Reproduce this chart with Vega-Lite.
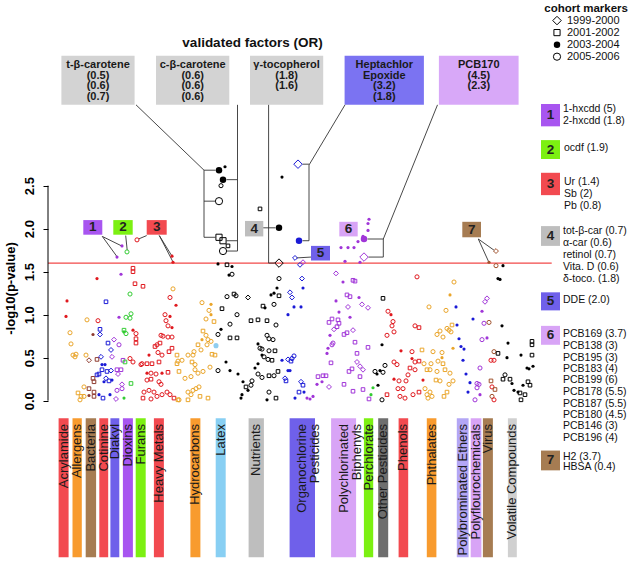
{
"$schema": "https://vega.github.io/schema/vega-lite/v6.json",
"width": 582, "height": 561,
"autosize": {"type": "none"},
"padding": {"left": 48, "top": 0, "right": 0, "bottom": 0},
"background": "white",
"config": {"view": {"stroke": null}, "font": "Liberation Sans"},
"datasets": {
"pts": [
{"x":69,"y":1.67,"c":"pur","s":"f"},{"x":74,"y":1.80,"c":"pur","s":"f"},{"x":79,"y":1.73,"c":"grn","s":"o"},{"x":89,"y":1.87,"c":"red","s":"o"},{"x":124,"y":1.68,"c":"red","s":"f"},{"x":125,"y":1.61,"c":"red","s":"f"},
{"x":85,"y":1.54,"c":"red","s":"q"},{"x":85,"y":1.50,"c":"red","s":"q"},{"x":49,"y":1.42,"c":"red","s":"f"},{"x":73,"y":1.47,"c":"pur","s":"f"},{"x":87,"y":1.36,"c":"red","s":"q"},{"x":95,"y":1.33,"c":"red","s":"q"},
{"x":19,"y":1.16,"c":"red","s":"f"},{"x":58,"y":1.15,"c":"blu","s":"q"},{"x":82,"y":1.24,"c":"grn","s":"o"},{"x":125,"y":1.30,"c":"org","s":"o"},{"x":122,"y":1.20,"c":"red","s":"o"},{"x":128,"y":1.11,"c":"red","s":"f"},
{"x":18,"y":0.98,"c":"red","s":"f"},{"x":39,"y":0.94,"c":"org","s":"o"},{"x":50,"y":0.93,"c":"red","s":"o"},{"x":71,"y":0.97,"c":"pur","s":"f"},{"x":78,"y":0.97,"c":"grn","s":"o"},{"x":83,"y":1.01,"c":"grn","s":"o"},
{"x":82,"y":0.96,"c":"grn","s":"o"},{"x":117,"y":1.00,"c":"red","s":"o"},{"x":122,"y":0.98,"c":"red","s":"f"},{"x":118,"y":0.93,"c":"red","s":"o"},{"x":120,"y":0.87,"c":"red","s":"o"},{"x":124,"y":0.85,"c":"red","s":"f"},
{"x":22,"y":0.79,"c":"org","s":"o"},{"x":52,"y":0.83,"c":"blu","s":"q"},{"x":52,"y":0.77,"c":"blu","s":"d"},{"x":45,"y":0.77,"c":"mar","s":"f"},{"x":76,"y":0.82,"c":"grn","s":"q"},{"x":76,"y":0.80,"c":"grn","s":"f"},
{"x":78,"y":0.78,"c":"grn","s":"o"},{"x":85,"y":0.82,"c":"red","s":"f"},{"x":88,"y":0.78,"c":"red","s":"o"},{"x":113,"y":0.76,"c":"red","s":"o"},{"x":115,"y":0.75,"c":"red","s":"o"},{"x":120,"y":0.74,"c":"red","s":"o"},
{"x":124,"y":0.74,"c":"red","s":"o"},{"x":66,"y":0.71,"c":"pur","s":"d"},{"x":71,"y":0.65,"c":"pur","s":"o"},{"x":60,"y":0.67,"c":"blu","s":"q"},{"x":88,"y":0.72,"c":"red","s":"q"},{"x":88,"y":0.67,"c":"red","s":"q"},
{"x":112,"y":0.67,"c":"red","s":"q"},{"x":109,"y":0.65,"c":"red","s":"o"},{"x":107,"y":0.63,"c":"red","s":"q"},{"x":23,"y":0.66,"c":"org","s":"o"},{"x":63,"y":0.59,"c":"blu","s":"d"},{"x":101,"y":0.53,"c":"red","s":"f"},
{"x":110,"y":0.56,"c":"red","s":"o"},{"x":114,"y":0.53,"c":"red","s":"o"},{"x":121,"y":0.57,"c":"red","s":"q"},{"x":124,"y":0.61,"c":"red","s":"q"},{"x":129,"y":0.53,"c":"org","s":"q"},{"x":25,"y":0.53,"c":"org","s":"o"},
{"x":27,"y":0.51,"c":"org","s":"o"},{"x":28,"y":0.54,"c":"org","s":"o"},{"x":38,"y":0.53,"c":"org","s":"o"},{"x":49,"y":0.48,"c":"mar","s":"q"},{"x":53,"y":0.51,"c":"blu","s":"d"},{"x":64,"y":0.51,"c":"pur","s":"d"},
{"x":75,"y":0.47,"c":"pur","s":"q"},{"x":77,"y":0.45,"c":"grn","s":"q"},{"x":82,"y":0.49,"c":"red","s":"o"},{"x":85,"y":0.45,"c":"red","s":"o"},{"x":93,"y":0.42,"c":"red","s":"o"},{"x":94,"y":0.43,"c":"red","s":"o"},
{"x":99,"y":0.43,"c":"red","s":"q"},{"x":104,"y":0.43,"c":"red","s":"q"},{"x":111,"y":0.45,"c":"red","s":"q"},{"x":54,"y":0.42,"c":"blu","s":"f"},{"x":57,"y":0.42,"c":"blu","s":"f"},{"x":54,"y":0.36,"c":"blu","s":"q"},
{"x":59,"y":0.34,"c":"blu","s":"q"},{"x":63,"y":0.35,"c":"blu","s":"d"},{"x":69,"y":0.36,"c":"pur","s":"q"},{"x":73,"y":0.36,"c":"pur","s":"q"},{"x":70,"y":0.31,"c":"pur","s":"d"},{"x":51,"y":0.31,"c":"blu","s":"q"},
{"x":49,"y":0.30,"c":"blu","s":"q"},{"x":45,"y":0.26,"c":"mar","s":"q"},{"x":46,"y":0.22,"c":"mar","s":"q"},{"x":58,"y":0.26,"c":"blu","s":"d"},{"x":56,"y":0.22,"c":"blu","s":"f"},{"x":61,"y":0.23,"c":"blu","s":"q"},
{"x":64,"y":0.24,"c":"blu","s":"f"},{"x":74,"y":0.19,"c":"pur","s":"d"},{"x":83,"y":0.20,"c":"grn","s":"q"},{"x":99,"y":0.32,"c":"red","s":"f"},{"x":103,"y":0.32,"c":"red","s":"o"},{"x":108,"y":0.31,"c":"red","s":"o"},
{"x":114,"y":0.32,"c":"red","s":"f"},{"x":120,"y":0.33,"c":"red","s":"q"},{"x":99,"y":0.24,"c":"red","s":"o"},{"x":103,"y":0.25,"c":"red","s":"q"},{"x":111,"y":0.22,"c":"red","s":"o"},{"x":113,"y":0.19,"c":"red","s":"o"},
{"x":36,"y":0.16,"c":"org","s":"o"},{"x":41,"y":0.14,"c":"mar","s":"q"},{"x":46,"y":0.10,"c":"mar","s":"q"},{"x":30,"y":0.09,"c":"org","s":"q"},{"x":33,"y":0.05,"c":"org","s":"q"},{"x":32,"y":0.01,"c":"org","s":"o"},
{"x":36,"y":0.05,"c":"org","s":"o"},{"x":41,"y":0.06,"c":"mar","s":"f"},{"x":46,"y":0.05,"c":"mar","s":"q"},{"x":51,"y":0.07,"c":"blu","s":"f"},{"x":55,"y":0.03,"c":"blu","s":"q"},{"x":62,"y":0.07,"c":"blu","s":"f"},
{"x":68,"y":0.02,"c":"pur","s":"d"},{"x":76,"y":0.03,"c":"grn","s":"f"},{"x":69,"y":0.12,"c":"pur","s":"o"},{"x":74,"y":0.14,"c":"pur","s":"o"},{"x":96,"y":0.10,"c":"red","s":"o"},{"x":101,"y":0.12,"c":"red","s":"o"},
{"x":106,"y":0.10,"c":"red","s":"o"},{"x":95,"y":0.03,"c":"red","s":"q"},{"x":103,"y":0.02,"c":"red","s":"o"},{"x":109,"y":0.05,"c":"red","s":"o"},{"x":114,"y":0.07,"c":"red","s":"o"},{"x":119,"y":0.10,"c":"red","s":"o"},
{"x":122,"y":0.07,"c":"red","s":"o"},{"x":126,"y":0.03,"c":"red","s":"q"},{"x":130,"y":0.01,"c":"org","s":"q"},{"x":41,"y":0.47,"c":"mar","s":"d"},
{"x":170,"y":1.59,"c":"blk","s":"f"},{"x":179,"y":1.58,"c":"blk","s":"q"},{"x":184,"y":1.56,"c":"blk","s":"f"},{"x":181,"y":1.46,"c":"blk","s":"f"},{"x":184,"y":1.47,"c":"blk","s":"o"},{"x":179,"y":1.21,"c":"blk","s":"o"},
{"x":186,"y":1.24,"c":"blk","s":"q"},{"x":188,"y":1.22,"c":"blk","s":"o"},{"x":200,"y":1.20,"c":"blk","s":"d"},{"x":215,"y":1.10,"c":"blk","s":"q"},{"x":217,"y":1.08,"c":"blk","s":"f"},{"x":226,"y":1.12,"c":"blk","s":"o"},
{"x":231,"y":1.42,"c":"blk","s":"o"},{"x":229,"y":1.31,"c":"blk","s":"f"},{"x":223,"y":1.23,"c":"blk","s":"f"},{"x":226,"y":1.25,"c":"blk","s":"f"},{"x":231,"y":1.22,"c":"blk","s":"q"},{"x":174,"y":1.07,"c":"blk","s":"q"},
{"x":189,"y":1.00,"c":"blk","s":"o"},{"x":154,"y":1.14,"c":"org","s":"o"},{"x":163,"y":1.12,"c":"org","s":"f"},{"x":161,"y":1.05,"c":"org","s":"o"},{"x":163,"y":1.00,"c":"org","s":"f"},{"x":203,"y":0.93,"c":"blk","s":"q"},
{"x":210,"y":0.94,"c":"blk","s":"q"},{"x":219,"y":0.93,"c":"blk","s":"q"},{"x":228,"y":0.88,"c":"blk","s":"o"},{"x":158,"y":0.95,"c":"org","s":"o"},{"x":166,"y":0.92,"c":"org","s":"q"},{"x":182,"y":0.89,"c":"blk","s":"o"},
{"x":173,"y":0.83,"c":"blk","s":"f"},{"x":170,"y":0.77,"c":"blk","s":"o"},{"x":182,"y":0.73,"c":"blk","s":"q"},{"x":189,"y":0.73,"c":"blk","s":"q"},{"x":219,"y":0.76,"c":"blk","s":"o"},{"x":221,"y":0.72,"c":"blk","s":"o"},
{"x":225,"y":0.71,"c":"blk","s":"o"},{"x":210,"y":0.66,"c":"blk","s":"f"},{"x":155,"y":0.81,"c":"org","s":"q"},{"x":158,"y":0.76,"c":"org","s":"o"},{"x":160,"y":0.71,"c":"org","s":"o"},{"x":154,"y":0.71,"c":"org","s":"f"},
{"x":163,"y":0.69,"c":"org","s":"o"},{"x":159,"y":0.65,"c":"org","s":"o"},{"x":150,"y":0.65,"c":"org","s":"q"},{"x":153,"y":0.59,"c":"org","s":"o"},{"x":146,"y":0.57,"c":"org","s":"o"},{"x":145,"y":0.53,"c":"org","s":"o"},
{"x":140,"y":0.53,"c":"org","s":"o"},{"x":168,"y":0.64,"c":"lbl","s":"L"},{"x":164,"y":0.54,"c":"org","s":"q"},{"x":167,"y":0.53,"c":"org","s":"q"},{"x":212,"y":0.61,"c":"blk","s":"o"},{"x":214,"y":0.60,"c":"blk","s":"o"},
{"x":221,"y":0.58,"c":"blk","s":"o"},{"x":227,"y":0.58,"c":"blk","s":"q"},{"x":214,"y":0.53,"c":"blk","s":"f"},{"x":216,"y":0.51,"c":"blk","s":"o"},{"x":220,"y":0.48,"c":"blk","s":"o"},{"x":224,"y":0.47,"c":"blk","s":"q"},
{"x":210,"y":0.43,"c":"blk","s":"f"},{"x":207,"y":0.38,"c":"blk","s":"f"},{"x":178,"y":0.45,"c":"blk","s":"f"},{"x":182,"y":0.35,"c":"blk","s":"f"},{"x":170,"y":0.35,"c":"blk","s":"o"},{"x":162,"y":0.39,"c":"org","s":"o"},
{"x":155,"y":0.34,"c":"org","s":"o"},{"x":150,"y":0.32,"c":"org","s":"o"},{"x":147,"y":0.36,"c":"org","s":"o"},{"x":144,"y":0.45,"c":"org","s":"q"},{"x":147,"y":0.42,"c":"org","s":"o"},{"x":134,"y":0.47,"c":"org","s":"o"},
{"x":130,"y":0.46,"c":"org","s":"o"},{"x":129,"y":0.43,"c":"org","s":"q"},{"x":131,"y":0.34,"c":"org","s":"q"},{"x":143,"y":0.28,"c":"org","s":"o"},{"x":137,"y":0.26,"c":"org","s":"o"},{"x":151,"y":0.16,"c":"org","s":"o"},
{"x":148,"y":0.14,"c":"org","s":"o"},{"x":145,"y":0.12,"c":"org","s":"o"},{"x":140,"y":0.10,"c":"org","s":"o"},{"x":143,"y":0.07,"c":"org","s":"o"},{"x":152,"y":0.05,"c":"org","s":"q"},{"x":160,"y":0.03,"c":"org","s":"q"},
{"x":140,"y":0.01,"c":"org","s":"q"},{"x":131,"y":0.01,"c":"org","s":"o"},{"x":190,"y":0.31,"c":"blk","s":"f"},{"x":195,"y":0.22,"c":"blk","s":"f"},{"x":204,"y":0.23,"c":"blk","s":"o"},{"x":203,"y":0.18,"c":"blk","s":"o"},
{"x":198,"y":0.16,"c":"blk","s":"q"},{"x":200,"y":0.12,"c":"blk","s":"f"},{"x":194,"y":0.07,"c":"blk","s":"f"},{"x":193,"y":0.03,"c":"blk","s":"f"},{"x":210,"y":0.31,"c":"blk","s":"o"},{"x":214,"y":0.27,"c":"blk","s":"o"},
{"x":221,"y":0.29,"c":"blk","s":"q"},{"x":226,"y":0.29,"c":"blk","s":"o"},{"x":230,"y":0.34,"c":"blk","s":"q"},{"x":221,"y":0.10,"c":"blk","s":"o"},{"x":228,"y":0.03,"c":"blk","s":"q"},{"x":219,"y":0.01,"c":"blk","s":"f"},
{"x":212,"y":2.23,"c":"blk","s":"q"},{"x":234,"y":2.60,"c":"blk","s":"f"},{"x":177,"y":2.72,"c":"blk","s":"f"},{"x":173,"y":2.50,"c":"blk","s":"o"},{"x":180,"y":1.80,"c":"blk","s":"q"},
{"x":252,"y":1.58,"c":"blu","s":"d"},{"x":247,"y":1.66,"c":"blu","s":"d"},{"x":254,"y":1.42,"c":"blu","s":"d"},{"x":255,"y":1.31,"c":"blu","s":"f"},{"x":242,"y":1.26,"c":"blu","s":"d"},{"x":244,"y":1.20,"c":"blu","s":"d"},
{"x":240,"y":1.00,"c":"blu","s":"f"},{"x":246,"y":1.09,"c":"blu","s":"f"},{"x":253,"y":1.09,"c":"blu","s":"f"},{"x":234,"y":0.47,"c":"blu","s":"f"},{"x":240,"y":0.48,"c":"blu","s":"d"},{"x":243,"y":0.46,"c":"blu","s":"q"},
{"x":244,"y":0.49,"c":"blu","s":"o"},{"x":246,"y":0.52,"c":"blu","s":"o"},{"x":240,"y":0.35,"c":"blu","s":"f"},{"x":242,"y":0.35,"c":"blu","s":"f"},{"x":237,"y":0.26,"c":"blu","s":"d"},{"x":238,"y":0.23,"c":"blu","s":"q"},
{"x":253,"y":0.22,"c":"blu","s":"d"},{"x":255,"y":0.18,"c":"blu","s":"q"},{"x":247,"y":0.03,"c":"blu","s":"f"},{"x":251,"y":0.10,"c":"blu","s":"q"},{"x":256,"y":0.10,"c":"blu","s":"f"},
{"x":255,"y":1.61,"c":"pur","s":"d"},{"x":297,"y":1.62,"c":"pur","s":"f"},{"x":312,"y":1.61,"c":"pur","s":"f"},{"x":288,"y":1.48,"c":"pur","s":"d"},{"x":295,"y":1.38,"c":"pur","s":"f"},{"x":305,"y":1.40,"c":"pur","s":"q"},
{"x":307,"y":1.39,"c":"pur","s":"q"},{"x":299,"y":1.23,"c":"pur","s":"q"},{"x":302,"y":1.21,"c":"pur","s":"q"},{"x":311,"y":1.20,"c":"pur","s":"f"},{"x":288,"y":1.16,"c":"pur","s":"f"},{"x":314,"y":1.12,"c":"pur","s":"d"},
{"x":320,"y":1.08,"c":"pur","s":"d"},{"x":300,"y":1.09,"c":"pur","s":"d"},{"x":291,"y":1.03,"c":"pur","s":"f"},{"x":302,"y":0.97,"c":"pur","s":"f"},{"x":284,"y":0.95,"c":"pur","s":"q"},{"x":281,"y":0.91,"c":"pur","s":"q"},
{"x":290,"y":0.94,"c":"pur","s":"q"},{"x":291,"y":0.90,"c":"pur","s":"q"},{"x":289,"y":0.86,"c":"pur","s":"q"},{"x":286,"y":0.83,"c":"pur","s":"d"},{"x":305,"y":0.82,"c":"pur","s":"d"},{"x":299,"y":0.79,"c":"pur","s":"q"},
{"x":296,"y":0.77,"c":"pur","s":"q"},{"x":282,"y":0.76,"c":"pur","s":"f"},{"x":285,"y":0.67,"c":"pur","s":"o"},{"x":284,"y":0.65,"c":"pur","s":"o"},{"x":307,"y":0.68,"c":"pur","s":"q"},{"x":320,"y":0.62,"c":"pur","s":"q"},
{"x":280,"y":0.61,"c":"pur","s":"f"},{"x":279,"y":0.55,"c":"pur","s":"f"},{"x":309,"y":0.55,"c":"pur","s":"q"},{"x":283,"y":0.44,"c":"pur","s":"q"},{"x":309,"y":0.45,"c":"pur","s":"d"},{"x":312,"y":0.40,"c":"pur","s":"d"},
{"x":315,"y":0.36,"c":"pur","s":"d"},{"x":304,"y":0.37,"c":"pur","s":"q"},{"x":301,"y":0.34,"c":"pur","s":"q"},{"x":312,"y":0.28,"c":"pur","s":"q"},{"x":270,"y":0.28,"c":"pur","s":"q"},{"x":275,"y":0.29,"c":"pur","s":"q"},
{"x":278,"y":0.29,"c":"pur","s":"q"},{"x":269,"y":0.19,"c":"pur","s":"f"},{"x":274,"y":0.22,"c":"pur","s":"f"},{"x":281,"y":0.16,"c":"pur","s":"d"},{"x":296,"y":0.19,"c":"pur","s":"q"},{"x":305,"y":0.11,"c":"pur","s":"q"},
{"x":315,"y":0.13,"c":"pur","s":"q"},{"x":321,"y":0.02,"c":"pur","s":"q"},{"x":259,"y":0.03,"c":"pur","s":"f"},{"x":262,"y":0.02,"c":"pur","s":"f"},{"x":265,"y":0.05,"c":"pur","s":"f"},
{"x":321,"y":2.11,"c":"pur","s":"f"},{"x":320,"y":2.06,"c":"pur","s":"f"},{"x":320,"y":1.98,"c":"pur","s":"f"},{"x":315,"y":1.91,"c":"pur","s":"f"},{"x":310,"y":1.85,"c":"pur","s":"f"},{"x":293,"y":1.78,"c":"pur","s":"f"},
{"x":300,"y":1.78,"c":"pur","s":"f"},{"x":306,"y":1.78,"c":"pur","s":"f"},
{"x":335,"y":1.19,"c":"blk","s":"q"},{"x":334,"y":0.65,"c":"blk","s":"f"},{"x":325,"y":0.15,"c":"grn","s":"f"},{"x":323,"y":0.07,"c":"grn","s":"f"},{"x":330,"y":0.18,"c":"blk","s":"f"},{"x":327,"y":0.34,"c":"blk","s":"o"},
{"x":332,"y":0.35,"c":"blk","s":"f"},{"x":335,"y":0.33,"c":"blk","s":"o"},{"x":337,"y":0.41,"c":"blk","s":"o"},{"x":329,"y":0.31,"c":"blk","s":"f"},{"x":334,"y":0.01,"c":"blk","s":"o"},
{"x":369,"y":1.44,"c":"red","s":"o"},{"x":340,"y":1.04,"c":"red","s":"o"},{"x":343,"y":1.00,"c":"red","s":"f"},{"x":345,"y":0.92,"c":"red","s":"o"},{"x":344,"y":0.87,"c":"red","s":"o"},{"x":367,"y":0.87,"c":"red","s":"o"},
{"x":371,"y":0.85,"c":"red","s":"q"},{"x":339,"y":0.76,"c":"red","s":"o"},{"x":346,"y":0.80,"c":"red","s":"o"},{"x":353,"y":0.58,"c":"red","s":"f"},{"x":346,"y":0.45,"c":"red","s":"o"},{"x":349,"y":0.42,"c":"red","s":"o"},
{"x":364,"y":0.57,"c":"red","s":"o"},{"x":364,"y":0.49,"c":"red","s":"f"},{"x":367,"y":0.45,"c":"red","s":"o"},{"x":371,"y":0.46,"c":"red","s":"q"},{"x":362,"y":0.38,"c":"red","s":"q"},{"x":367,"y":0.36,"c":"red","s":"o"},
{"x":360,"y":0.30,"c":"red","s":"o"},{"x":346,"y":0.25,"c":"red","s":"f"},{"x":351,"y":0.23,"c":"red","s":"o"},{"x":358,"y":0.23,"c":"red","s":"o"},{"x":350,"y":0.14,"c":"red","s":"o"},{"x":355,"y":0.14,"c":"red","s":"o"},
{"x":352,"y":0.05,"c":"red","s":"o"},{"x":357,"y":0.03,"c":"red","s":"o"},{"x":365,"y":0.07,"c":"red","s":"o"},{"x":371,"y":0.10,"c":"red","s":"q"},{"x":339,"y":0.07,"c":"red","s":"q"},{"x":375,"y":0.24,"c":"red","s":"f"},
{"x":374,"y":0.59,"c":"org","s":"q"},{"x":376,"y":0.43,"c":"org","s":"o"},{"x":379,"y":0.36,"c":"org","s":"q"},{"x":377,"y":0.14,"c":"org","s":"o"},{"x":379,"y":0.07,"c":"org","s":"o"},{"x":381,"y":1.09,"c":"org","s":"o"},
{"x":406,"y":1.38,"c":"org","s":"o"},{"x":402,"y":1.23,"c":"org","s":"f"},{"x":398,"y":1.05,"c":"org","s":"o"},{"x":404,"y":0.88,"c":"org","s":"q"},{"x":399,"y":0.84,"c":"org","s":"o"},{"x":401,"y":0.82,"c":"org","s":"o"},
{"x":392,"y":0.81,"c":"org","s":"o"},{"x":389,"y":0.77,"c":"org","s":"o"},{"x":403,"y":0.80,"c":"org","s":"o"},{"x":395,"y":0.74,"c":"org","s":"o"},{"x":405,"y":0.61,"c":"org","s":"f"},{"x":394,"y":0.56,"c":"org","s":"o"},
{"x":385,"y":0.57,"c":"org","s":"o"},{"x":394,"y":0.50,"c":"org","s":"f"},{"x":390,"y":0.46,"c":"org","s":"o"},{"x":395,"y":0.43,"c":"org","s":"q"},{"x":383,"y":0.43,"c":"org","s":"o"},{"x":382,"y":0.36,"c":"org","s":"o"},
{"x":389,"y":0.34,"c":"org","s":"o"},{"x":397,"y":0.36,"c":"org","s":"q"},{"x":402,"y":0.32,"c":"org","s":"o"},{"x":392,"y":0.23,"c":"org","s":"o"},{"x":388,"y":0.24,"c":"org","s":"q"},{"x":405,"y":0.23,"c":"org","s":"o"},
{"x":401,"y":0.19,"c":"org","s":"o"},{"x":382,"y":0.10,"c":"org","s":"o"},{"x":399,"y":0.10,"c":"org","s":"q"},{"x":396,"y":0.05,"c":"org","s":"q"},{"x":380,"y":0.03,"c":"org","s":"o"},{"x":384,"y":0.05,"c":"org","s":"o"},
{"x":408,"y":1.09,"c":"blu","s":"f"},{"x":425,"y":0.95,"c":"blu","s":"f"},{"x":409,"y":0.88,"c":"blu","s":"f"},{"x":411,"y":0.72,"c":"blu","s":"f"},{"x":413,"y":0.63,"c":"blu","s":"f"},{"x":416,"y":0.60,"c":"blu","s":"f"},
{"x":415,"y":0.47,"c":"blu","s":"f"},{"x":418,"y":0.31,"c":"blu","s":"f"},{"x":422,"y":0.21,"c":"blu","s":"f"},{"x":420,"y":0.10,"c":"blu","s":"f"},
{"x":439,"y":1.19,"c":"pur","s":"d"},{"x":437,"y":1.15,"c":"pur","s":"d"},{"x":434,"y":1.04,"c":"pur","s":"f"},{"x":436,"y":0.90,"c":"pur","s":"o"},{"x":441,"y":0.91,"c":"brn","s":"o"},{"x":439,"y":0.73,"c":"pur","s":"f"},
{"x":434,"y":0.71,"c":"pur","s":"o"},{"x":432,"y":0.38,"c":"pur","s":"o"},{"x":429,"y":0.20,"c":"pur","s":"o"},{"x":431,"y":0.19,"c":"pur","s":"o"},{"x":429,"y":0.15,"c":"pur","s":"o"},{"x":432,"y":0.07,"c":"pur","s":"f"},
{"x":427,"y":0.01,"c":"pur","s":"o"},
{"x":441,"y":1.61,"c":"brn","s":"f"},{"x":448,"y":1.74,"c":"brn","s":"d"},{"x":448,"y":1.57,"c":"brn","s":"o"},{"x":446,"y":0.57,"c":"brn","s":"o"},{"x":443,"y":0.47,"c":"red","s":"o"},{"x":446,"y":0.47,"c":"red","s":"o"},
{"x":443,"y":0.23,"c":"brn","s":"q"},{"x":444,"y":0.16,"c":"red","s":"o"},{"x":447,"y":0.13,"c":"brn","s":"q"},{"x":444,"y":0.05,"c":"brn","s":"o"},{"x":446,"y":0.01,"c":"red","s":"o"},
{"x":455,"y":1.57,"c":"blk","s":"f"},{"x":450,"y":1.42,"c":"blk","s":"f"},{"x":452,"y":1.41,"c":"blk","s":"f"},{"x":454,"y":0.87,"c":"blk","s":"f"},{"x":460,"y":0.67,"c":"blk","s":"f"},{"x":484,"y":0.65,"c":"blk","s":"q"},
{"x":484,"y":0.69,"c":"blk","s":"q"},{"x":450,"y":0.55,"c":"blk","s":"q"},{"x":473,"y":0.53,"c":"blk","s":"f"},{"x":484,"y":0.53,"c":"blk","s":"q"},{"x":459,"y":0.50,"c":"blk","s":"f"},{"x":479,"y":0.38,"c":"blk","s":"f"},
{"x":481,"y":0.37,"c":"blk","s":"f"},{"x":485,"y":0.40,"c":"blk","s":"f"},{"x":457,"y":0.30,"c":"blk","s":"o"},{"x":462,"y":0.25,"c":"blk","s":"q"},{"x":455,"y":0.25,"c":"blk","s":"q"},{"x":464,"y":0.20,"c":"blk","s":"f"},
{"x":466,"y":0.12,"c":"blk","s":"f"},{"x":470,"y":0.10,"c":"blk","s":"f"},{"x":475,"y":0.18,"c":"blk","s":"f"},{"x":480,"y":0.22,"c":"blk","s":"q"},{"x":482,"y":0.18,"c":"blk","s":"q"},{"x":472,"y":0.09,"c":"blk","s":"q"},
{"x":477,"y":0.07,"c":"blk","s":"q"},{"x":473,"y":0.01,"c":"blk","s":"q"},
{"x":171,"y":2.68,"c":"blk","s":"F"},{"x":171,"y":2.32,"c":"blk","s":"O"},{"x":171,"y":1.90,"c":"blk","s":"Q"},{"x":175,"y":2.57,"c":"blk","s":"F"},{"x":175,"y":1.86,"c":"blk","s":"Q"},{"x":175,"y":1.74,"c":"blk","s":"O"},
{"x":231,"y":2.01,"c":"blk","s":"F"},{"x":231,"y":1.60,"c":"blk","s":"D"},{"x":250,"y":2.75,"c":"blu","s":"D"},{"x":251,"y":1.86,"c":"blu","s":"F"},{"x":316,"y":1.88,"c":"pur","s":"F"},{"x":316,"y":1.67,"c":"pur","s":"D"},
{"x":509,"y":4.42,"c":"blk","s":"D"},{"x":509,"y":4.28,"c":"blk","s":"Q"},{"x":509,"y":4.14,"c":"blk","s":"F"},{"x":509,"y":4.00,"c":"blk","s":"O"}
],
"seg": [
{"x":88,"y":3.44,"x2":156,"y2":2.68},{"x":156,"y":2.68,"x2":156,"y2":1.90},{"x":156,"y":2.68,"x2":167.5,"y2":2.68},{"x":156,"y":2.32,"x2":167,"y2":2.32},{"x":156,"y":1.90,"x2":167.5,"y2":1.90},
{"x":189.5,"y":3.44,"x2":189.5,"y2":1.74},{"x":189.5,"y":2.57,"x2":178.5,"y2":2.57},{"x":189.5,"y":1.86,"x2":178.5,"y2":1.86},{"x":189.5,"y":1.74,"x2":179,"y2":1.74},
{"x":220.6,"y":3.44,"x2":220.6,"y2":1.60},{"x":220.6,"y":2.01,"x2":227.5,"y2":2.01},{"x":220.6,"y":1.60,"x2":226.5,"y2":1.60},{"x":215.3,"y":2.01,"x2":220.6,"y2":2.01},
{"x":297,"y":3.44,"x2":261,"y2":2.74},{"x":261,"y":2.74,"x2":261,"y2":1.86},{"x":261,"y":2.75,"x2":254.5,"y2":2.75},{"x":261,"y":1.86,"x2":254.5,"y2":1.86},
{"x":389.5,"y":3.44,"x2":335.3,"y2":1.88},{"x":335.3,"y":1.88,"x2":335.3,"y2":1.67},{"x":335.3,"y":1.88,"x2":319.5,"y2":1.88},{"x":335.3,"y":1.67,"x2":320.5,"y2":1.67},
{"x":54.3,"y":1.91,"x2":68.7,"y2":1.68},{"x":54.3,"y":1.91,"x2":73.5,"y2":1.80},{"x":77.7,"y":1.92,"x2":79.2,"y2":1.75},{"x":98.7,"y":1.92,"x2":90.5,"y2":1.88},
{"x":111.3,"y":1.92,"x2":123.5,"y2":1.69},{"x":111.3,"y":1.92,"x2":124.7,"y2":1.62},{"x":263,"y":1.67,"x2":248.5,"y2":1.66},{"x":430.3,"y":1.88,"x2":446,"y2":1.75},{"x":430.3,"y":1.88,"x2":440.5,"y2":1.62}
],
"thr": [{"x":0,"y":1.6,"x2":503.7,"y2":1.6}],
"yax": [{"x":0,"y":0,"x2":0,"y2":2.5}],
"rects": [
{"x":10.6,"x2":20.6,"y":-0.205,"y2":-1.82,"c":"Bred"},{"x":24.5,"x2":33.8,"y":-0.205,"y2":-1.82,"c":"Borg"},{"x":37.7,"x2":48.1,"y":-0.205,"y2":-1.82,"c":"Bbrn"},
{"x":51.3,"x2":60.2,"y":-0.205,"y2":-1.82,"c":"Bred"},{"x":62.4,"x2":71.3,"y":-0.205,"y2":-1.82,"c":"Bblu"},{"x":74.9,"x2":84.9,"y":-0.205,"y2":-1.82,"c":"Bpur"},
{"x":87.7,"x2":97.7,"y":-0.205,"y2":-1.82,"c":"Bgrn"},{"x":105.9,"x2":115.9,"y":-0.205,"y2":-1.82,"c":"Bred"},{"x":142.4,"x2":152.4,"y":-0.205,"y2":-1.82,"c":"Borg"},
{"x":167.7,"x2":177.7,"y":-0.205,"y2":-1.82,"c":"Blbl"},{"x":200.6,"x2":215.9,"y":-0.205,"y2":-1.82,"c":"Bgry"},{"x":241.6,"x2":267,"y":-0.205,"y2":-1.82,"c":"Bblu"},
{"x":283.1,"x2":308.1,"y":-0.205,"y2":-1.82,"c":"Blpu"},{"x":315.9,"x2":325.2,"y":-0.205,"y2":-1.82,"c":"Bgrn"},{"x":330.2,"x2":340.2,"y":-0.205,"y2":-1.82,"c":"Bdgy"},
{"x":350.6,"x2":360.2,"y":-0.205,"y2":-1.82,"c":"Bred"},{"x":378.8,"x2":388.4,"y":-0.205,"y2":-1.82,"c":"Borg"},{"x":408.8,"x2":420.6,"y":-0.205,"y2":-1.82,"c":"Blav"},
{"x":422.7,"x2":433.4,"y":-0.205,"y2":-1.82,"c":"Blpu"},{"x":434.9,"x2":444.9,"y":-0.205,"y2":-1.82,"c":"Bbrn"},{"x":459.9,"x2":468.8,"y":-0.205,"y2":-1.82,"c":"Blgy"},
{"x":13.4,"x2":86.6,"y":4.01,"y2":3.44,"c":"Vgry"},{"x":108,"x2":181.3,"y":4.01,"y2":3.44,"c":"Vgry"},{"x":202,"x2":275.2,"y":4.01,"y2":3.44,"c":"Vgry"},
{"x":296.6,"x2":375.9,"y":4.01,"y2":3.44,"c":"Vhep"},{"x":390.9,"x2":470.6,"y":4.01,"y2":3.44,"c":"Vpcb"},
{"x":35.3,"x2":54.3,"y":1.93,"y2":2.10,"c":"Bpur"},{"x":65.3,"x2":84.7,"y":1.93,"y2":2.10,"c":"Bgrn"},{"x":98.7,"x2":118.7,"y":1.93,"y2":2.10,"c":"Bred"},
{"x":197,"x2":215.3,"y":1.91,"y2":2.09,"c":"Bgry"},{"x":263,"x2":282,"y":1.63,"y2":1.80,"c":"Bblu"},{"x":291.3,"x2":309.7,"y":1.91,"y2":2.08,"c":"Blpu"},
{"x":414.3,"x2":433,"y":1.90,"y2":2.08,"c":"Bbrn"},
{"x":493,"x2":512,"y":3.19,"y2":3.45,"c":"Bpur"},{"x":493,"x2":512,"y":2.81,"y2":3.03,"c":"Bgrn"},{"x":493,"x2":512,"y":2.39,"y2":2.65,"c":"Bred"},
{"x":493,"x2":512,"y":1.80,"y2":2.03,"c":"Bgry"},{"x":493,"x2":512,"y":1.05,"y2":1.26,"c":"Bblu"},{"x":493,"x2":512,"y":0.65,"y2":0.87,"c":"Blpu"},
{"x":493,"x2":512,"y":-0.81,"y2":-0.58,"c":"Bbrn"}
],
"barlab": [
{"x":15.6,"y":-0.27,"t":"Acrylamide"},{"x":29.15,"y":-0.27,"t":"Allergens"},{"x":42.9,"y":-0.27,"t":"Bacteria"},{"x":55.75,"y":-0.27,"t":"Cotinine"},
{"x":66.85,"y":-0.27,"t":"Diakyl"},{"x":79.9,"y":-0.27,"t":"Dioxins"},{"x":92.7,"y":-0.27,"t":"Furans"},{"x":110.9,"y":-0.27,"t":"Heavy Metals"},
{"x":147.4,"y":-0.27,"t":"Hydrocarbons"},{"x":172.7,"y":-0.27,"t":"Latex"},{"x":208.25,"y":-0.27,"t":"Nutrients"},{"x":254.3,"y":-0.27,"t":"Organochlorine\nPesticides"},
{"x":295.6,"y":-0.27,"t":"Polychlorinated\nBiphenyls"},{"x":320.55,"y":-0.27,"t":"Perchlorate"},{"x":335.2,"y":-0.27,"t":"Other Pesticides"},{"x":355.4,"y":-0.27,"t":"Phenols"},
{"x":383.6,"y":-0.27,"t":"Phthalates"},{"x":414.7,"y":-0.27,"t":"Polybrominated Ethers"},{"x":428.05,"y":-0.27,"t":"Polyflourochemicals"},{"x":439.9,"y":-0.27,"t":"Virus"},
{"x":464.35,"y":-0.27,"t":"Volatile Compounds"}
],
"vbox": [
{"x":50,"y":3.97,"t":"t-β-carotene\n(0.5)\n(0.6)\n(0.7)"},{"x":144.7,"y":3.97,"t":"c-β-carotene\n(0.6)\n(0.6)\n(0.6)"},{"x":238.6,"y":3.97,"t":"γ-tocopherol\n(1.8)\n(1.6)"},
{"x":336.3,"y":3.97,"t":"Heptachlor\nEpoxide\n(3.2)\n(1.8)"},{"x":430.8,"y":3.97,"t":"PCB170\n(4.5)\n(2.3)"}
],
"ttl": [{"x":204.5,"y":4.16,"t":"validated factors (OR)"},{"x":580,"y":4.555,"t":"cohort markers"}],
"cleg": [{"x":519,"y":4.42,"t":"1999-2000"},{"x":519,"y":4.28,"t":"2001-2002"},{"x":519,"y":4.14,"t":"2003-2004"},{"x":519,"y":4.00,"t":"2005-2006"}],
"nums": [
{"x":44.8,"y":2.015,"t":"1"},{"x":75,"y":2.015,"t":"2"},{"x":108.7,"y":2.015,"t":"3"},{"x":206.2,"y":2.0,"t":"4"},{"x":272.5,"y":1.715,"t":"5"},{"x":300.5,"y":1.995,"t":"6"},{"x":423.7,"y":1.99,"t":"7"},
{"x":502.5,"y":3.32,"t":"1"},{"x":502.5,"y":2.92,"t":"2"},{"x":502.5,"y":2.52,"t":"3"},{"x":502.5,"y":1.915,"t":"4"},{"x":502.5,"y":1.155,"t":"5"},{"x":502.5,"y":0.76,"t":"6"},{"x":502.5,"y":-0.695,"t":"7"}
],
"nleg": [
{"x":515,"y":3.39,"t":"1-hxcdd (5)"},{"x":515,"y":3.25,"t":"2-hxcdd (1.8)"},{"x":516,"y":2.94,"t":"ocdf (1.9)"},
{"x":516,"y":2.54,"t":"Ur (1.4)"},{"x":516,"y":2.40,"t":"Sb (2)"},{"x":516,"y":2.26,"t":"Pb (0.8)"},
{"x":515,"y":1.97,"t":"tot-β-car (0.7)"},{"x":515,"y":1.83,"t":"α-car (0.6)"},{"x":515,"y":1.69,"t":"retinol  (0.7)"},{"x":515,"y":1.55,"t":"Vita. D (0.6)"},{"x":515,"y":1.42,"t":"δ-toco. (1.8)"},
{"x":515,"y":1.17,"t":"DDE (2.0)"},
{"x":515,"y":0.776,"t":"PCB169 (3.7)"},{"x":515,"y":0.636,"t":"PCB138 (3)"},{"x":515,"y":0.502,"t":"PCB195 (3)"},{"x":515,"y":0.369,"t":"PCB183 (4)"},{"x":515,"y":0.235,"t":"PCB199 (6)"},
{"x":515,"y":0.101,"t":"PCB178 (5.5)"},{"x":515,"y":-0.033,"t":"PCB187 (5.5)"},{"x":515,"y":-0.166,"t":"PCB180 (4.5)"},{"x":515,"y":-0.30,"t":"PCB146 (3)"},{"x":515,"y":-0.434,"t":"PCB196 (4)"},
{"x":515,"y":-0.649,"t":"H2 (3.7)"},{"x":515,"y":-0.771,"t":"HBSA (0.4)"}
]
},
"encoding": {
"x": {"field": "x", "type": "quantitative", "scale": {"domain": [0, 582], "nice": false, "zero": false}, "axis": null},
"y": {"field": "y", "type": "quantitative", "scale": {"domain": [-1.864, 4.659], "nice": false, "zero": false},
 "axis": {"title": "-log10(p-value)", "values": [0, 0.5, 1, 1.5, 2, 2.5], "format": ".1f", "domain": false, "grid": false, "tickSize": 5, "tickColor": "#000", "tickWidth": 1,
 "labelAngle": 270, "labelAlign": "center", "labelBaseline": "bottom", "labelPadding": 7, "labelFontSize": 13, "labelFontWeight": "bold", "labelColor": "#000", "labelFont": "Liberation Sans", "labelFlush": false, "labelOverlap": false,
 "titleFont": "Liberation Sans", "titleFontSize": 13, "titleFontWeight": "bold", "titleColor": "#000", "titleAngle": 270, "titleX": -38, "titleY": 288, "titleAlign": "center", "titleBaseline": "middle"}}
},
"layer": [
{"data": {"name": "rects"}, "mark": {"type": "rect"},
 "encoding": {"x2": {"field": "x2"}, "y2": {"field": "y2"},
  "color": {"field": "c", "type": "nominal", "legend": null, "scale": {"domain": ["red","mar","org","blu","pur","grn","blk","lbl","brn","Bred","Borg","Bbrn","Bblu","Bpur","Blpu","Bgrn","Blbl","Bgry","Bdgy","Blav","Blgy","Vgry","Vhep","Vpcb"], "range": ["#E0191F","#8E3A2E","#EAA52A","#1A1AD6","#A035D8","#33CC33","#000000","#8FCDF0","#A0522D","#F24A50","#F89B2E","#A67C52","#6F60EA","#A855F0","#D8A4F6","#7CF012","#88CFF3","#BEBEBE","#6E6E6E","#B3A6F5","#D0D0D0","#D3D3D3","#7B73F2","#D8A8F8"]}}}},
{"data": {"name": "thr"}, "mark": {"type": "rule", "color": "#F24848", "strokeWidth": 1.2},
 "encoding": {"x2": {"field": "x2"}, "y2": {"field": "y2"}}},
{"data": {"name": "yax"}, "mark": {"type": "rule", "color": "#000", "strokeWidth": 1},
 "encoding": {"x2": {"field": "x2"}, "y2": {"field": "y2"}}},
{"data": {"name": "seg"}, "mark": {"type": "rule", "color": "#333", "strokeWidth": 0.9},
 "encoding": {"x2": {"field": "x2"}, "y2": {"field": "y2"}}},
{"data": {"name": "pts"}, "transform": [{"filter": "datum.s !== 'f' && datum.s !== 'F' && datum.s !== 'L'"}],
 "mark": {"type": "point", "filled": false, "strokeWidth": 1, "opacity": 1},
 "encoding": {
  "color": {"field": "c", "type": "nominal", "legend": null, "scale": {"domain": ["red","mar","org","blu","pur","grn","blk","lbl","brn","Bred","Borg","Bbrn","Bblu","Bpur","Blpu","Bgrn","Blbl","Bgry","Bdgy","Blav","Blgy","Vgry","Vhep","Vpcb"], "range": ["#E0191F","#8E3A2E","#EAA52A","#1A1AD6","#A035D8","#33CC33","#000000","#8FCDF0","#A0522D","#F24A50","#F89B2E","#A67C52","#6F60EA","#A855F0","#D8A4F6","#7CF012","#88CFF3","#BEBEBE","#6E6E6E","#B3A6F5","#D0D0D0","#D3D3D3","#7B73F2","#D8A8F8"]}},
  "shape": {"field": "s", "type": "nominal", "legend": null, "scale": {"type": "ordinal", "domain": ["d","q","f","o","D","Q","F","O","L"], "range": ["diamond","square","circle","circle","diamond","square","circle","circle","circle"]}},
  "size": {"field": "s", "type": "nominal", "legend": null, "scale": {"type": "ordinal", "domain": ["d","q","f","o","D","Q","F","O","L"], "range": [24, 13, 10, 17, 72, 38, 42, 52, 26]}}}},
{"data": {"name": "pts"}, "transform": [{"filter": "datum.s === 'f' || datum.s === 'F' || datum.s === 'L'"}],
 "mark": {"type": "point", "filled": true, "opacity": 1},
 "encoding": {
  "color": {"field": "c", "type": "nominal", "legend": null, "scale": {"domain": ["red","mar","org","blu","pur","grn","blk","lbl","brn","Bred","Borg","Bbrn","Bblu","Bpur","Blpu","Bgrn","Blbl","Bgry","Bdgy","Blav","Blgy","Vgry","Vhep","Vpcb"], "range": ["#E0191F","#8E3A2E","#EAA52A","#1A1AD6","#A035D8","#33CC33","#000000","#8FCDF0","#A0522D","#F24A50","#F89B2E","#A67C52","#6F60EA","#A855F0","#D8A4F6","#7CF012","#88CFF3","#BEBEBE","#6E6E6E","#B3A6F5","#D0D0D0","#D3D3D3","#7B73F2","#D8A8F8"]}},
  "shape": {"field": "s", "type": "nominal", "legend": null, "scale": {"type": "ordinal", "domain": ["d","q","f","o","D","Q","F","O","L"], "range": ["diamond","square","circle","circle","diamond","square","circle","circle","circle"]}},
  "size": {"field": "s", "type": "nominal", "legend": null, "scale": {"type": "ordinal", "domain": ["d","q","f","o","D","Q","F","O","L"], "range": [24, 13, 10, 17, 72, 38, 42, 52, 26]}}}},
{"data": {"name": "barlab"}, "mark": {"type": "text", "angle": 270, "align": "right", "baseline": "middle", "fontSize": 13, "lineHeight": 13, "lineBreak": "\n", "color": "#1a1a1a", "font": "Liberation Sans"},
 "encoding": {"text": {"field": "t"}}},
{"data": {"name": "vbox"}, "mark": {"type": "text", "align": "center", "baseline": "top", "fontSize": 11, "fontWeight": "bold", "lineHeight": 10.5, "lineBreak": "\n", "color": "#1a1a1a", "font": "Liberation Sans"},
 "encoding": {"text": {"field": "t"}}},
{"data": {"name": "ttl"}, "transform": [{"filter": "datum.x < 300"}], "mark": {"type": "text", "align": "center", "baseline": "middle", "fontSize": 13.5, "fontWeight": "bold", "color": "#111", "font": "Liberation Sans"},
 "encoding": {"text": {"field": "t"}}},
{"data": {"name": "ttl"}, "transform": [{"filter": "datum.x > 300"}], "mark": {"type": "text", "align": "right", "baseline": "middle", "fontSize": 11.5, "fontWeight": "bold", "color": "#111", "font": "Liberation Sans"},
 "encoding": {"text": {"field": "t"}}},
{"data": {"name": "cleg"}, "mark": {"type": "text", "align": "left", "baseline": "middle", "fontSize": 11, "color": "#111", "font": "Liberation Sans"},
 "encoding": {"text": {"field": "t"}}},
{"data": {"name": "nums"}, "mark": {"type": "text", "align": "center", "baseline": "middle", "fontSize": 13.5, "fontWeight": "bold", "color": "#222", "font": "Liberation Sans"},
 "encoding": {"text": {"field": "t"}}},
{"data": {"name": "nleg"}, "mark": {"type": "text", "align": "left", "baseline": "middle", "fontSize": 10.5, "color": "#111", "font": "Liberation Sans"},
 "encoding": {"text": {"field": "t"}}}
]
}
